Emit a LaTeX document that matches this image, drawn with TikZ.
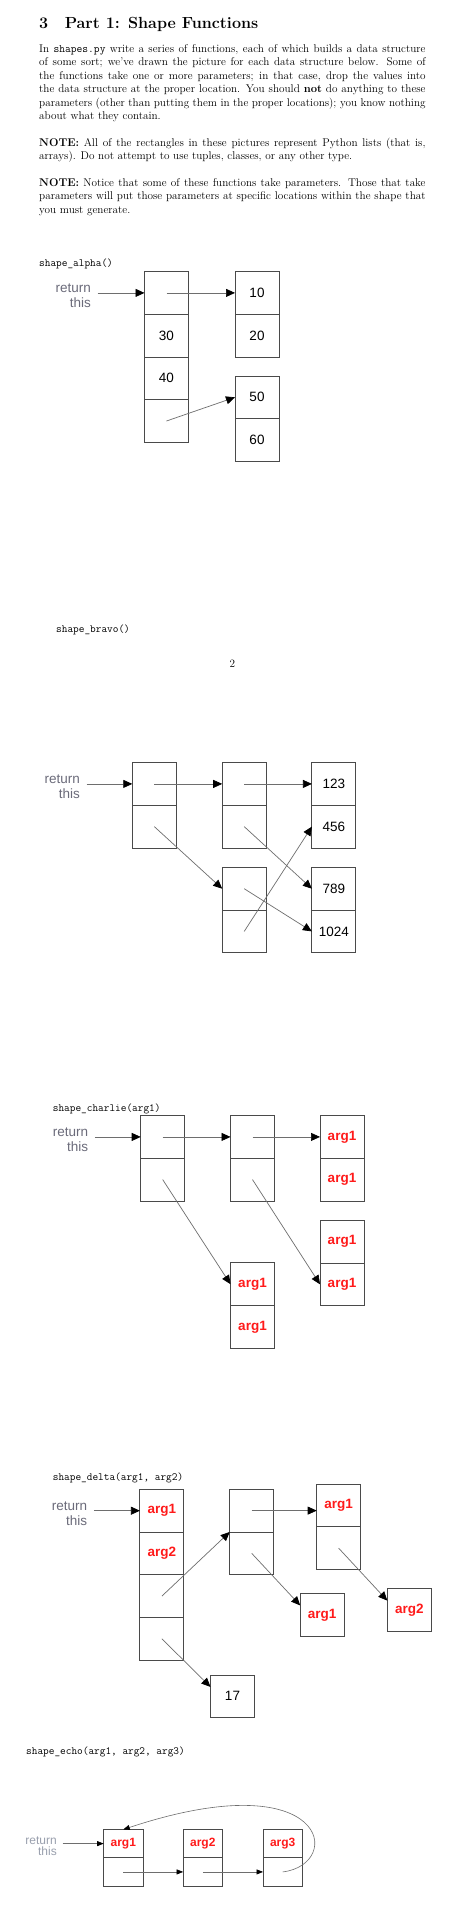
\documentclass[tikz,border=0pt]{standalone}
\usepackage{fontspec}
\setsansfont{Liberation Sans}
\usetikzlibrary{arrows.meta,calc,positioning}
\definecolor{BoxLine}{HTML}{4A4A4A}
\definecolor{PointerLine}{HTML}{6E6E6E}
\definecolor{ArgRed}{HTML}{FF1A1A}
\definecolor{ReturnGray}{HTML}{6B6B7A}
\definecolor{ReturnPale}{HTML}{9AA0AE}
\tikzset{
  cell/.style={
    draw=BoxLine,
    line width=0.9pt,
    minimum width=44pt,
    minimum height=42.7pt,
    inner sep=0pt,
    outer sep=0pt,
    font=\fontsize{13.5}{15}\selectfont\sffamily
  },
  small cell/.style={
    cell,
    minimum width=39.3pt,
    minimum height=28.3pt,
    font=\fontsize{12}{13}\selectfont\sffamily
  },
  arg/.style={text=ArgRed, font=\fontsize{13.5}{15}\selectfont\sffamily\bfseries},
  small arg/.style={text=ArgRed, font=\fontsize{12}{13}\selectfont\sffamily\bfseries},
  pointer/.style={-{Triangle[length=9pt,width=8pt,color=black]},draw=PointerLine,line width=0.7pt},
  small pointer/.style={-{Triangle[length=6.5pt,width=5pt,color=black]},draw=PointerLine,line width=0.6pt},
  return label/.style={
    anchor=east,
    inner sep=0pt,
    align=right,
    text=ReturnGray,
    font=\fontsize{13.5}{14.6}\selectfont\sffamily
  },
  fn label/.style={anchor=west, inner sep=0pt, font=\fontsize{11}{13}\selectfont\ttfamily},
  body text/.style={
    anchor=base west,
    inner sep=0pt,
    text width=386.4pt,
    align=justify,
    font=\fontsize{11.2}{13.4}\selectfont
  }
}

\begin{document}
\begin{tikzpicture}[x=1pt,y=-1pt]
  \fill[white] (0,0) rectangle (475,1917);
  \useasboundingbox (0,0) rectangle (475,1917);

  % section text
  \node[anchor=base west,inner sep=0pt,font=\fontsize{16.1}{19}\selectfont\bfseries] (sec) at (39,28.3)
    {3\hspace{16.5pt}Part 1: Shape Functions};
  \node[body text] (intro) at (39,52.5)
    {In \texttt{shapes.py} write a series of functions, each of which builds a data structure\linebreak
     of some sort; we've drawn the picture for each data structure below. Some of\linebreak
     the functions take one or more parameters; in that case, drop the values into\linebreak
     the data structure at the proper location. You should \textbf{not} do anything to these\linebreak
     parameters (other than putting them in the proper locations); you know nothing\linebreak
     about what they contain.};
  \node[body text] (noteone) at (39,146.3)
    {\textbf{NOTE:} All of the rectangles in these pictures represent Python lists (that is,\linebreak
     arrays). Do not attempt to use tuples, classes, or any other type.};
  \node[body text] (notetwo) at (39,186.5)
    {\textbf{NOTE:} Notice that some of these functions take parameters. Those that take\linebreak
     parameters will put those parameters at specific locations within the shape that\linebreak
     you must generate.};

  % shape_alpha
  \node[fn label] (alname) at (39,264.3) {shape\_alpha()};
  \node[return label] (alret) at (91,295.5) {return\\this};
  \node[cell] (al1) at (166.5,292.9) {};
  \node[cell,below=0pt of al1] (al2) {30};
  \node[cell,below=0pt of al2] (al3) {40};
  \node[cell,below=0pt of al3] (al4) {};
  \node[cell] (alb1) at (257,292.9) {10};
  \node[cell,below=0pt of alb1] (alb2) {20};
  \node[cell] (alc1) at (257,397.3) {50};
  \node[cell,below=0pt of alc1] (alc2) {60};
  \draw[pointer] ([xshift=6.5pt]alret.east |- al1.west) -- (al1.west);
  \draw[pointer] (al1.center) -- (alb1.west);
  \draw[pointer] (al4.center) -- (alc1.west);

  % shape_bravo
  \node[fn label] (brname) at (56,630) {shape\_bravo()};
  \node[inner sep=0pt,font=\fontsize{11.2}{13.4}\selectfont] (pagenum) at (232.3,663.3) {2};
  \node[return label] (brret) at (80,786.5) {return\\this};
  \node[cell] (br1) at (154.3,783.9) {};
  \node[cell,below=0pt of br1] (br2) {};
  \node[cell] (brb1) at (244.2,783.9) {};
  \node[cell,below=0pt of brb1] (brb2) {};
  \node[cell] (brc1) at (333.9,783.9) {123};
  \node[cell,below=0pt of brc1] (brc2) {456};
  \node[cell] (brd1) at (244.2,888.7) {};
  \node[cell,below=0pt of brd1] (brd2) {};
  \node[cell] (bre1) at (333.9,888.7) {789};
  \node[cell,below=0pt of bre1] (bre2) {1024};
  \draw[pointer] ([xshift=6.5pt]brret.east |- br1.west) -- (br1.west);
  \draw[pointer] (br1.center) -- (brb1.west);
  \draw[pointer] (brb1.center) -- (brc1.west);
  \draw[pointer] (br2.center) -- (brd1.west);
  \draw[pointer] (brb2.center) -- (bre1.west);
  \draw[pointer] (brd1.center) -- (bre2.west);
  \draw[pointer] (brd2.center) -- (brc2.west);

  % shape_charlie
  \node[fn label] (chname) at (52.7,1109) {shape\_charlie(arg1)};
  \node[return label] (chret) at (88.3,1139.5) {return\\this};
  \node[cell] (ch1) at (162.7,1136.9) {};
  \node[cell,below=0pt of ch1] (ch2) {};
  \node[cell] (chb1) at (252.5,1136.9) {};
  \node[cell,below=0pt of chb1] (chb2) {};
  \node[cell,arg] (chc1) at (342,1136.9) {arg1};
  \node[cell,arg,below=0pt of chc1] (chc2) {arg1};
  \node[cell,arg] (chd1) at (252.5,1284.2) {arg1};
  \node[cell,arg,below=0pt of chd1] (chd2) {arg1};
  \node[cell,arg] (che1) at (342,1241.6) {arg1};
  \node[cell,arg,below=0pt of che1] (che2) {arg1};
  \draw[pointer] ([xshift=6.5pt]chret.east |- ch1.west) -- (ch1.west);
  \draw[pointer] (ch1.center) -- (chb1.west);
  \draw[pointer] (chb1.center) -- (chc1.west);
  \draw[pointer] (ch2.center) -- (chd1.west);
  \draw[pointer] (chb2.center) -- (che2.west);

  % shape_delta
  \node[fn label] (dename) at (52.7,1478.3) {shape\_delta(arg1, arg2)};
  \node[return label] (deret) at (87.3,1513.8) {return\\this};
  \node[cell,arg] (de1) at (161.9,1510.7) {arg1};
  \node[cell,arg,below=0pt of de1] (de2) {arg2};
  \node[cell,below=0pt of de2] (de3) {};
  \node[cell,below=0pt of de3] (de4) {};
  \node[cell] (deb1) at (251.7,1510.6) {};
  \node[cell,below=0pt of deb1] (deb2) {};
  \node[cell,arg] (dec1) at (338.7,1505.5) {arg1};
  \node[cell,below=0pt of dec1] (dec2) {};
  \node[cell,arg] (ded) at (322.2,1614.8) {arg1};
  \node[cell,arg] (dee) at (409.3,1610) {arg2};
  \node[cell] (def) at (232.5,1696.3) {17};
  \draw[pointer] ([xshift=6.5pt]deret.east |- de1.west) -- (de1.west);
  \draw[pointer] (de3.center) -- (deb1.south west);
  \draw[pointer] (deb1.center) -- (deb1.center -| dec1.west);
  \draw[pointer] (deb2.center) -- ($(ded.north west)!0.28!(ded.south west)$);
  \draw[pointer] (dec2.center) -- ($(dee.north west)!0.28!(dee.south west)$);
  \draw[pointer] (de4.center) -- ($(def.north west)!0.28!(def.south west)$);

  % shape_echo
  \node[fn label] (ecname) at (26,1751.7) {shape\_echo(arg1, arg2, arg3)};
  \node[return label,text=ReturnPale,font=\fontsize{12}{10.3}\selectfont\sffamily] (ecret) at (57,1846.3) {return\\this};
  \node[small cell,small arg] (ec1) at (123.3,1843.6) {arg1};
  \node[small cell,below=0pt of ec1] (ec2) {};
  \node[small cell,small arg] (ecb1) at (202.8,1843.6) {arg2};
  \node[small cell,below=0pt of ecb1] (ecb2) {};
  \node[small cell,small arg] (ecc1) at (282.7,1843.6) {arg3};
  \node[small cell,below=0pt of ecc1] (ecc2) {};
  \draw[small pointer] ([xshift=5.7pt]ecret.east |- ec1.west) -- (ec1.west);
  \draw[small pointer] (ec2.center) -- (ecb2.west);
  \draw[small pointer] (ecb2.center) -- (ecc2.west);
  \draw[small pointer] (ecc2.center) .. controls +(61.7,-7.3) and +(206,-68.3) .. (ec1.north);
\end{tikzpicture}
\end{document}
